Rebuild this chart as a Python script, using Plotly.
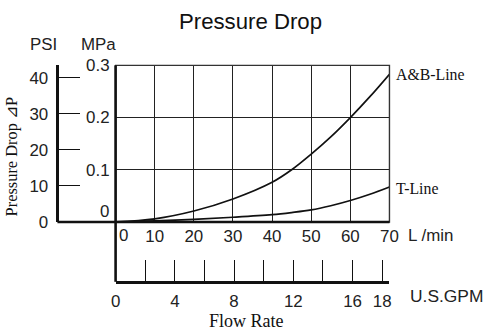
import plotly.graph_objects as go

# figure size; the page shows it with a small inset and slight downscale,
# so layout positions below are given in final-view pixels and mapped back
W, H = 501, 343
INSET_X, INSET_Y = 7.75, 7.5
SCALE_X, SCALE_Y = 0.969, 0.947

# Flow rate (L/min) and pressure drop (MPa) for each line
flow_lpm = [0, 10, 20, 30, 40, 45, 50, 55, 60, 65, 70]
ab_line_mpa = [0, 0.006, 0.021, 0.044, 0.076, 0.100, 0.130, 0.163, 0.200, 0.240, 0.283]
t_line_mpa = [0, 0.002, 0.005, 0.009, 0.014, 0.018, 0.023, 0.031, 0.041, 0.053, 0.067]

x_ticks = [10, 20, 30, 40, 50, 60, 70]
mpa_ticks = [0.1, 0.2, 0.3]
psi_ticks = [0, 10, 20, 30, 40]
gpm_ticks = [0, 2, 4, 6, 8, 10, 12, 14, 16, 18]
gpm_labels = ["0", "", "4", "", "8", "", "12", "", "16", "18"]

MPA_TO_PSI = 145.038
GPM_TO_LPM = 3.78541
X_MAX, Y_MAX = 70, 0.3

# view-pixel frame of the main plot area
PL, PR, PT, PB = 118, 391, 64, 221
PSI_X = 60
GPM_Y = 281

def px(x):
    return (x - INSET_X) / SCALE_X / W

def py(y):
    return 1 - (y - INSET_Y) / SCALE_Y / H

def fs(size):
    return round(size / SCALE_Y, 1)

sans = "Liberation Sans, Arial, sans-serif"
serif = "Liberation Serif, Times New Roman, serif"
ink = "#111111"
txt = "#222222"
tick_font = dict(family=sans, size=fs(16), color=txt)

fig = go.Figure()
fig.add_trace(go.Scatter(x=flow_lpm, y=ab_line_mpa, mode="lines", line=dict(color=ink, width=1.7, shape="spline"),
                         hoverinfo="skip", showlegend=False))
fig.add_trace(go.Scatter(x=flow_lpm, y=t_line_mpa, mode="lines", line=dict(color=ink, width=1.7, shape="spline"),
                         hoverinfo="skip", showlegend=False))

fig.update_layout(
    width=W, height=H, margin=dict(l=0, r=0, t=0, b=0),
    paper_bgcolor="white", plot_bgcolor="white",
    xaxis=dict(domain=[px(PL), px(PR)], range=[0, X_MAX], tickvals=x_ticks,
               ticktext=[str(v) for v in x_ticks], showgrid=True, gridcolor="#222", gridwidth=1.3,
               zeroline=False, showline=False, ticks="", ticklabelstandoff=2,
               tickfont=tick_font, fixedrange=True),
    yaxis=dict(domain=[py(PB), py(PT)], range=[0, Y_MAX], tickvals=mpa_ticks,
               ticktext=["0.1", "0.2", "0.3"], showgrid=True, gridcolor="#222", gridwidth=1.3,
               zeroline=False, showline=False, ticks="", ticklabelstandoff=5,
               tickfont=tick_font, fixedrange=True),
    # PSI scale on the far left
    yaxis2=dict(overlaying="y", anchor="free", position=px(PSI_X), side="left",
                range=[0, Y_MAX * MPA_TO_PSI], tickvals=psi_ticks, ticks="inside", ticklen=21,
                tickwidth=1.4, tickcolor=ink, showline=True, linecolor=ink, linewidth=2.6,
                showgrid=False, zeroline=False, ticklabelstandoff=5, tickfont=tick_font,
                fixedrange=True),
    # U.S.GPM scale below
    xaxis2=dict(overlaying="x", anchor="free", position=py(GPM_Y), side="bottom",
                range=[0, X_MAX / GPM_TO_LPM], tickvals=gpm_ticks, ticktext=gpm_labels,
                ticks="inside", ticklen=21, tickwidth=1.4, tickcolor=ink, showline=True,
                linecolor=ink, linewidth=2.6, showgrid=False, zeroline=False,
                ticklabelstandoff=3, tickfont=tick_font, fixedrange=True),
)

# empty trace to activate the secondary axes
fig.add_trace(go.Scatter(x=[None], y=[None], xaxis="x2", yaxis="y2", showlegend=False, hoverinfo="skip"))

shapes = [
    # thin frame on top/right
    dict(type="rect", xref="x domain", yref="y domain", x0=0, x1=1, y0=0, y1=1,
         line=dict(color="#333", width=1.4)),
    # thick left and bottom axis lines
    dict(type="line", xref="paper", yref="paper", x0=px(PL), x1=px(PL), y0=py(PT), y1=py(GPM_Y),
         line=dict(color=ink, width=2.6)),
    dict(type="line", xref="paper", yref="paper", x0=px(PSI_X), x1=px(PR), y0=py(PB), y1=py(PB),
         line=dict(color=ink, width=2.6)),
]
fig.update_layout(shapes=shapes)

ann = [
    dict(text="Pressure Drop", x=px(252), y=py(20), font=dict(family=sans, size=fs(21), color="#111")),
    dict(text="PSI", x=px(46), y=py(43), font=dict(family=sans, size=fs(16), color=txt)),
    dict(text="MPa", x=px(101), y=py(43), font=dict(family=sans, size=fs(16), color=txt)),
    dict(text="0", x=px(113), y=py(211), xanchor="right", font=tick_font),
    dict(text="0", x=px(126), y=py(235), font=tick_font),
    dict(text="L /min", x=px(407), y=py(235), xanchor="left", font=dict(family=sans, size=fs(16), color=txt)),
    dict(text="U.S.GPM", x=px(409), y=py(295), xanchor="left", font=dict(family=sans, size=fs(16.5), color=txt)),
    dict(text="A&amp;B-Line", x=px(396), y=py(73), xanchor="left", font=dict(family=serif, size=fs(15), color="#111")),
    dict(text="T-Line", x=px(396), y=py(187), xanchor="left", font=dict(family=serif, size=fs(15), color="#111")),
    dict(text="Flow Rate", x=px(248), y=py(320), font=dict(family=serif, size=fs(17), color="#111")),
    dict(text="Pressure Drop ⊿P", x=px(14), y=py(155), textangle=-90,
         font=dict(family=serif, size=fs(15.5), color="#111")),
]
for a in ann:
    a.update(xref="paper", yref="paper", showarrow=False)
    a.setdefault("xanchor", "center")
    a.setdefault("yanchor", "middle")
fig.update_layout(annotations=ann)

fig.write_html("out.html")
